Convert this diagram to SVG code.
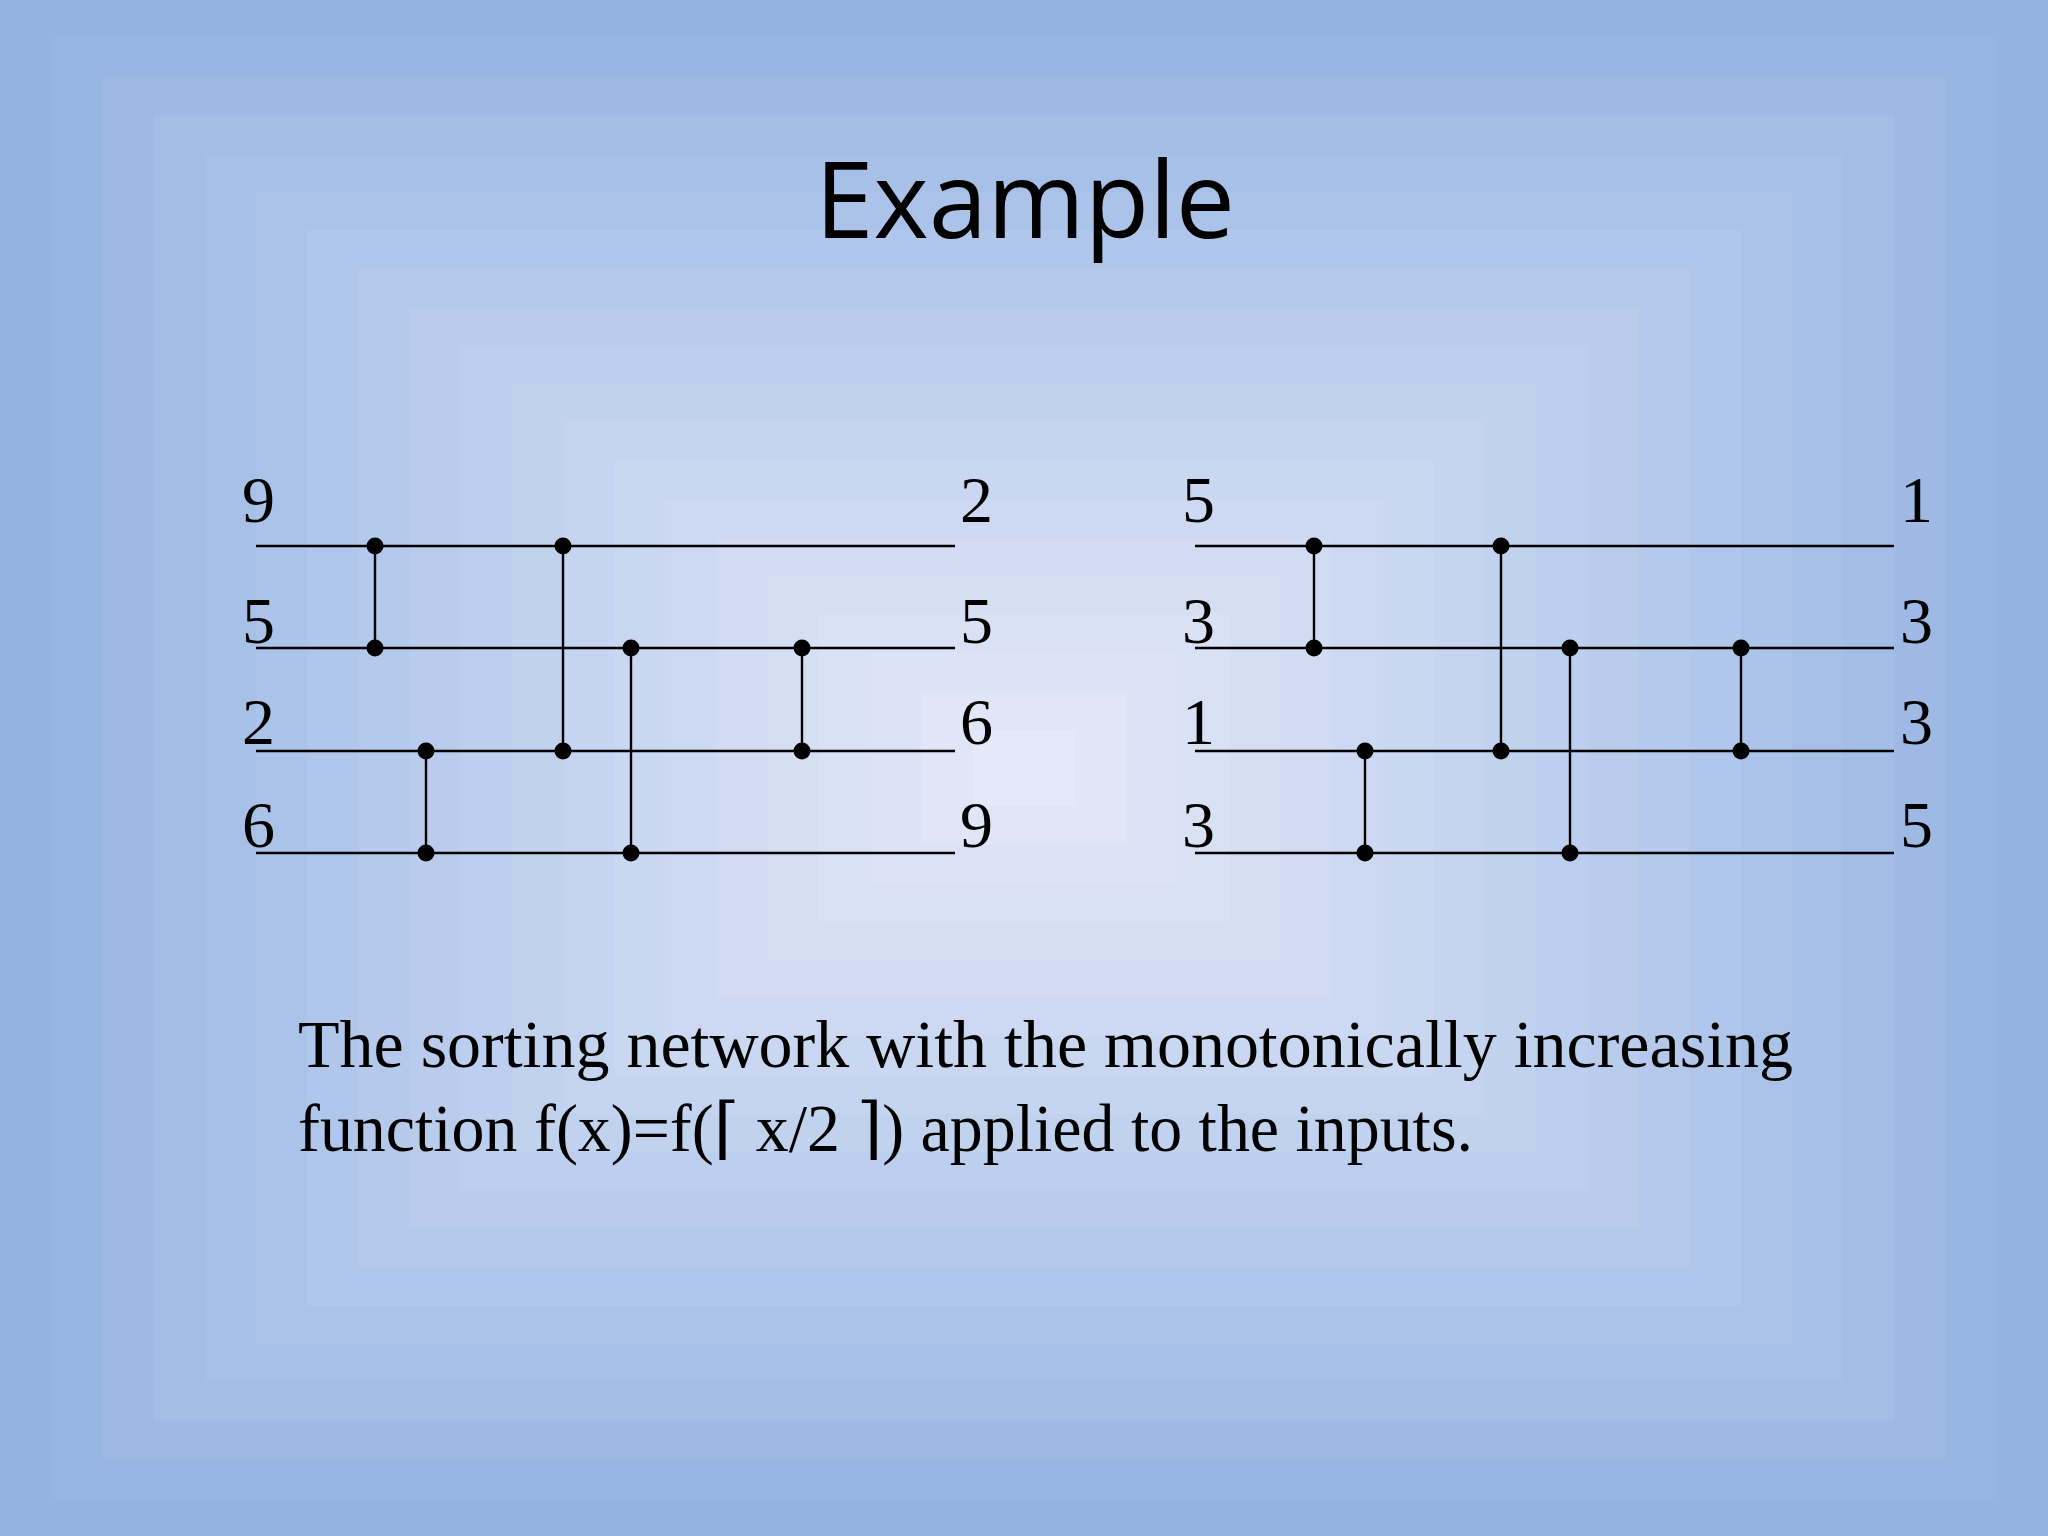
<svg xmlns="http://www.w3.org/2000/svg" width="2048" height="1536" viewBox="0 0 2048 1536">
<style>
.wire{stroke:#000;stroke-width:2.6;fill:none}
.cmp{stroke:#000;stroke-width:2.4;fill:none}
.dot{fill:#000}
.num{font-family:"Liberation Serif","Times New Roman",serif;font-size:66px;fill:#000}
.body{font-family:"Liberation Serif","Times New Roman",serif;font-size:68px;fill:#000}
.title{font-family:"Open Sans","Noto Sans",sans-serif;font-size:106px;fill:#000}
</style>
<g id="background">
<rect x="0" y="0" width="2048" height="1536" fill="#93b3e0"/>
<rect x="51.2" y="38.4" width="1945.6" height="1459.2" fill="#98b6e2"/>
<rect x="102.4" y="76.8" width="1843.2" height="1382.4" fill="#9db9e4"/>
<rect x="153.6" y="115.2" width="1740.8" height="1305.6" fill="#a2bde6"/>
<rect x="204.8" y="153.6" width="1638.4" height="1228.8" fill="#a7c0e8"/>
<rect x="256" y="192" width="1536" height="1152" fill="#abc3e9"/>
<rect x="307.2" y="230.4" width="1433.6" height="1075.2" fill="#b0c6ea"/>
<rect x="358.4" y="268.8" width="1331.2" height="998.4" fill="#b4c9eb"/>
<rect x="409.6" y="307.2" width="1228.8" height="921.6" fill="#b9ccec"/>
<rect x="460.8" y="345.6" width="1126.4" height="844.8" fill="#bdcfee"/>
<rect x="512" y="384" width="1024" height="768" fill="#c1d2ef"/>
<rect x="563.2" y="422.4" width="921.6" height="691.2" fill="#c5d4f0"/>
<rect x="614.4" y="460.8" width="819.2" height="614.4" fill="#c9d7f1"/>
<rect x="665.6" y="499.2" width="716.8" height="537.6" fill="#cdd9f2"/>
<rect x="716.8" y="537.6" width="614.4" height="460.8" fill="#d1dcf3"/>
<rect x="768" y="576" width="512" height="384" fill="#d5dff4"/>
<rect x="819.2" y="614.4" width="409.6" height="307.2" fill="#d9e1f5"/>
<rect x="870.4" y="652.8" width="307.2" height="230.4" fill="#dce3f6"/>
<rect x="921.6" y="691.2" width="204.8" height="153.6" fill="#e0e5f7"/>
<rect x="972.8" y="729.6" width="102.4" height="76.8" fill="#e4e8f8"/>
</g>
<g id="title"><text class="title" x="815" y="238" textLength="420" lengthAdjust="spacingAndGlyphs">Example</text></g>

<g id="connectors">
<line class="wire" x1="256" y1="546" x2="955" y2="546"/>
<line class="wire" x1="256" y1="648" x2="955" y2="648"/>
<line class="wire" x1="256" y1="751" x2="955" y2="751"/>
<line class="wire" x1="256" y1="853" x2="955" y2="853"/>
<line class="wire" x1="1195" y1="546" x2="1894" y2="546"/>
<line class="wire" x1="1195" y1="648" x2="1894" y2="648"/>
<line class="wire" x1="1195" y1="751" x2="1894" y2="751"/>
<line class="wire" x1="1195" y1="853" x2="1894" y2="853"/>
</g>

<g id="left-comparator-1"><line class="cmp" x1="375" y1="546" x2="375" y2="648"/><circle class="dot" cx="375" cy="546" r="8.5"/><circle class="dot" cx="375" cy="648" r="8.5"/></g>
<g id="left-comparator-2"><line class="cmp" x1="426" y1="751" x2="426" y2="853"/><circle class="dot" cx="426" cy="751" r="8.5"/><circle class="dot" cx="426" cy="853" r="8.5"/></g>
<g id="left-comparator-3"><line class="cmp" x1="563" y1="546" x2="563" y2="751"/><circle class="dot" cx="563" cy="546" r="8.5"/><circle class="dot" cx="563" cy="751" r="8.5"/></g>
<g id="left-comparator-4"><line class="cmp" x1="631" y1="648" x2="631" y2="853"/><circle class="dot" cx="631" cy="648" r="8.5"/><circle class="dot" cx="631" cy="853" r="8.5"/></g>
<g id="left-comparator-5"><line class="cmp" x1="802" y1="648" x2="802" y2="751"/><circle class="dot" cx="802" cy="648" r="8.5"/><circle class="dot" cx="802" cy="751" r="8.5"/></g>

<g id="right-comparator-1"><line class="cmp" x1="1314" y1="546" x2="1314" y2="648"/><circle class="dot" cx="1314" cy="546" r="8.5"/><circle class="dot" cx="1314" cy="648" r="8.5"/></g>
<g id="right-comparator-2"><line class="cmp" x1="1365" y1="751" x2="1365" y2="853"/><circle class="dot" cx="1365" cy="751" r="8.5"/><circle class="dot" cx="1365" cy="853" r="8.5"/></g>
<g id="right-comparator-3"><line class="cmp" x1="1501" y1="546" x2="1501" y2="751"/><circle class="dot" cx="1501" cy="546" r="8.5"/><circle class="dot" cx="1501" cy="751" r="8.5"/></g>
<g id="right-comparator-4"><line class="cmp" x1="1570" y1="648" x2="1570" y2="853"/><circle class="dot" cx="1570" cy="648" r="8.5"/><circle class="dot" cx="1570" cy="853" r="8.5"/></g>
<g id="right-comparator-5"><line class="cmp" x1="1741" y1="648" x2="1741" y2="751"/><circle class="dot" cx="1741" cy="648" r="8.5"/><circle class="dot" cx="1741" cy="751" r="8.5"/></g>

<g id="left-inputs">
<text class="num" x="242" y="522">9</text>
<text class="num" x="242" y="643">5</text>
<text class="num" x="242" y="744">2</text>
<text class="num" x="242" y="847">6</text>
</g>
<g id="left-outputs">
<text class="num" x="960" y="522">2</text>
<text class="num" x="960" y="643">5</text>
<text class="num" x="960" y="744">6</text>
<text class="num" x="960" y="847">9</text>
</g>
<g id="right-inputs">
<text class="num" x="1182" y="522">5</text>
<text class="num" x="1182" y="643">3</text>
<text class="num" x="1182" y="744">1</text>
<text class="num" x="1182" y="847">3</text>
</g>
<g id="right-outputs">
<text class="num" x="1900" y="522">1</text>
<text class="num" x="1900" y="643">3</text>
<text class="num" x="1900" y="744">3</text>
<text class="num" x="1900" y="847">5</text>
</g>

<g id="caption">
<text class="body" x="298" y="1067" textLength="1495" lengthAdjust="spacingAndGlyphs">The sorting network with the monotonically increasing</text>
<text class="body" x="298" y="1151" textLength="1175" lengthAdjust="spacingAndGlyphs">function f(x)=f(<tspan font-family="DejaVu Serif, serif">⌈</tspan> x/2 <tspan font-family="DejaVu Serif, serif">⌉</tspan>) applied to the inputs.</text>
</g>
</svg>
